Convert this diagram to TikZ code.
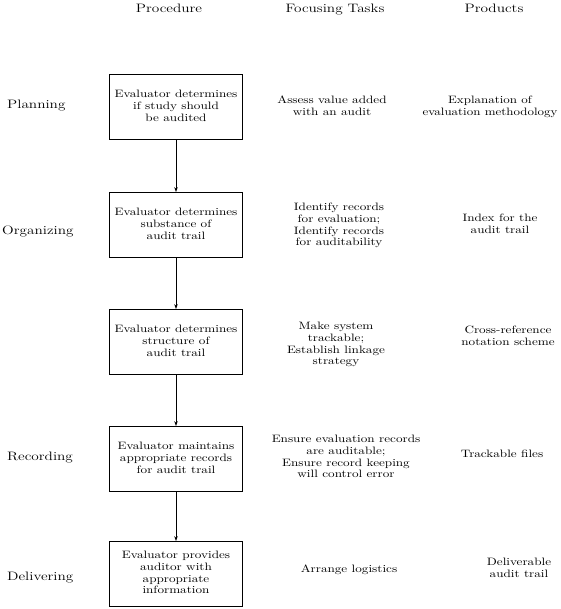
\documentclass[tikz,border=0pt]{standalone}
\usepackage{graphicx}
\usetikzlibrary{arrows.meta}
\newcommand{\stxt}[2][1.23]{\scalebox{#1}[1]{\begin{tabular}{@{}c@{}}#2\end{tabular}}}
\tikzset{
  small/.style={font=\fontsize{10.7}{11.7}\selectfont, inner sep=0pt},
  big/.style={font=\fontsize{12.2}{14}\selectfont, inner sep=0pt},
  procbox/.style={draw, line width=0.8pt, minimum width=133pt, minimum height=65pt, inner sep=0pt, font=\fontsize{10.7}{11.7}\selectfont},
  flow/.style={line width=0.7pt, -{Stealth[length=5pt,width=3.5pt]}}
}
\begin{document}
\begin{tikzpicture}[x=1pt,y=-1pt]
\useasboundingbox (0,0) rectangle (560,609);
% headers
\node[big] (h1) at (169,10) {\stxt[1.25]{Procedure}};
\node[big] (h2) at (335,10) {\stxt[1.25]{Focusing Tasks}};
\node[big] (h3) at (494,10) {\stxt[1.25]{Products}};
% row labels
\node[big, anchor=west] (l1) at (7,106) {\stxt[1.25]{Planning}};
\node[big, anchor=west] (l2) at (2,232) {\stxt[1.25]{Organizing}};
\node[big, anchor=west] (l4) at (7,458) {\stxt[1.25]{Recording}};
\node[big, anchor=west] (l5) at (7,578) {\stxt[1.25]{Delivering}};
% boxes
\node[procbox] (b1) at (176,107) {\stxt{Evaluator determines\\if study should\\be audited}};
\node[procbox] (b2) at (176,225) {\stxt{Evaluator determines\\substance of\\audit trail}};
\node[procbox] (b3) at (176,342) {\stxt{Evaluator determines\\structure of\\audit trail}};
\node[procbox] (b4) at (176,459) {\stxt{Evaluator maintains\\appropriate records\\for audit trail}};
\node[procbox] (b5) at (176,574) {\stxt{Evaluator provides\\auditor with\\appropriate\\information}};
\draw[flow] (b1) -- (b2);
\draw[flow] (b2) -- (b3);
\draw[flow] (b3) -- (b4);
\draw[flow] (b4) -- (b5);
% focusing tasks
\node[small] (f1) at (332,107) {\stxt{Assess value added\\with an audit}};
\node[small] (f2) at (339,226) {\stxt{Identify records\\for evaluation;\\Identify records\\for auditability}};
\node[small] (f3) at (336,345) {\stxt{Make system\\trackable;\\Establish linkage\\strategy}};
\node[small] (f4) at (346,458) {\stxt{Ensure evaluation records\\are auditable;\\Ensure record keeping\\will control error}};
\node[small] (f5) at (349,570) {\stxt{Arrange logistics}};
% products
\node[small] (p1) at (490,107) {\stxt[1.21]{Explanation of\\evaluation methodology}};
\node[small] (p2) at (500,225) {\stxt{Index for the\\audit trail}};
\node[small] (p3) at (508,337) {\stxt{Cross-reference\\notation scheme}};
\node[small] (p4) at (502,455) {\stxt{Trackable files}};
\node[small] (p5) at (519,569) {\stxt{Deliverable\\audit trail}};
\end{tikzpicture}
\end{document}
